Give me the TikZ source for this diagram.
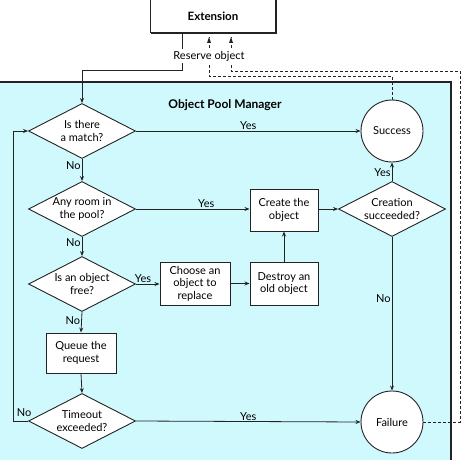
\documentclass[tikz,border=0pt]{standalone}
\usepackage{fontspec}
\setmainfont{Lato}
\usetikzlibrary{shapes.geometric,arrows.meta}
\definecolor{panel}{RGB}{207,249,252}
\definecolor{ink}{RGB}{35,35,35}
\tikzset{
  every node/.style={font=\fontsize{11}{12.5}\selectfont, text=black},
  flow/.style={draw=ink, line width=0.8pt, -{Stealth[length=5pt,width=4pt]}},
  link/.style={draw=ink, line width=0.8pt},
  dlink/.style={draw=ink, line width=0.7pt, densely dashed},
  decision/.style={diamond, draw=ink, line width=0.9pt, fill=white, inner sep=0pt,
     minimum width=107pt, minimum height=55pt},
  stepbox/.style={rectangle, draw=ink, line width=1pt, fill=white, align=center,
     minimum width=68pt, minimum height=42pt, inner sep=1pt},
  endpoint/.style={circle, draw=ink, line width=0.9pt, fill=white, minimum size=62pt, inner sep=0pt},
  tag/.style={inner sep=1pt}
}
\begin{document}
\begin{tikzpicture}[x=1pt,y=-1pt]
\useasboundingbox (0,0) rectangle (474,460);
% panel
\fill[panel] (-2,82) rectangle (451,462);
\draw[ink, line width=1.5pt] (-2,82) -- (451,82) -- (451,462);
\node[font=\fontsize{12}{14}\selectfont\bfseries] (title) at (225,105) {Object Pool Manager};
% extension
\node[rectangle, draw=ink, line width=1pt, fill=white, minimum width=126pt, minimum height=34pt,
      font=\fontsize{11.5}{14}\selectfont\bfseries] (ext) at (213,16) {Extension};
\draw[ink, line width=1.8pt] (150.5,33) -- (276,33) -- (276,0);
% nodes
\node[decision, label={[align=center]center:Is there\\a match?}] (d1) at (82,131) {};
\node[decision, label={[align=center]center:Any room in\\the pool?}] (d2) at (82,209) {};
\node[decision, label={[align=center]center:Is an object\\free?}] (d3) at (82,284) {};
\node[decision, label={[align=center]center:Timeout\\exceeded?}] (d5) at (82,421) {};
\node[decision, label={[align=center]center:Creation\\succeeded?}] (d4) at (392,209) {};
\node[stepbox] (create) at (284,210) {Create the\\object};
\node[stepbox, minimum width=70pt, minimum height=43pt] (choose) at (195,283.5) {Choose an\\object to\\replace};
\node[stepbox, minimum height=43pt] (destroy) at (284,283.5) {Destroy an\\old object};
\node[stepbox, minimum width=70pt, minimum height=40pt] (queue) at (81,353) {Queue the\\request};
\node[endpoint] (success) at (392,131) {Success};
\node[endpoint] (failure) at (392,422) {Failure};
% coordinates
\coordinate (rs1) at (182,70);
\coordinate (rs2) at (82,70);
\coordinate (la) at (13,421);
\coordinate (lb) at (13,131);
\coordinate (fa) at (460,422);
\coordinate (fb) at (460,71);
\coordinate (fc) at (231,71);
\coordinate (fe) at (231,37);
\coordinate (sa) at (392,76);
\coordinate (sb) at (209,76);
\coordinate (se) at (209,37);
% connectors
\draw[flow] (ext.south -| rs1) -- (rs1) -- (rs2) -- (d1.north);
\draw[flow] (d1.east) -- node[above, tag]{Yes} (success.west);
\draw[flow] (d1.south) -- node[left, tag, pos=0.3]{No} (d2.north);
\draw[flow] (d2.east) -- node[above, tag, pos=0.62]{Yes} (create.west |- d2.east);
\draw[flow] (d2.south) -- node[left, tag, pos=0.3]{No} (d3.north);
\draw[flow] (d3.east) -- node[above, tag, pos=0.3]{Yes} (choose.west |- d3.east);
\draw[flow] (choose.east) -- (destroy.west);
\draw[flow] (destroy.north) -- (create.south);
\draw[flow] (create.east |- d4.west) -- (d4.west);
\draw[flow] (d4.north) -- node[left, tag, pos=0.45]{Yes} (success.south);
\draw[flow] (d4.south) -- node[left, tag, pos=0.4]{No} (failure.north);
\draw[flow] (d3.south) -- node[left, tag, pos=0.4]{No} (queue.north);
\draw[flow] (queue.south) -- (d5.north);
\draw[flow] (d5.east) -- node[above, tag]{Yes} (failure.west);
\draw[flow] (d5.west) -- (la) -- (lb) -- (d1.west);
\node[tag] (nolbl) at (24,413) {No};
\draw[dlink] (failure.east) -- (fa) -- (fb) -- (fc) -- (fe);
\draw[dlink] (success.north) -- (sa) -- (sb) -- (se);
\fill[ink] (fe) -- ++(-2,6) -- ++(4,0) -- cycle;
\fill[ink] (se) -- ++(-2,6) -- ++(4,0) -- cycle;
\node[fill=white, inner sep=1.5pt] (reserve) at (209,56) {Reserve object};
\end{tikzpicture}
\end{document}
